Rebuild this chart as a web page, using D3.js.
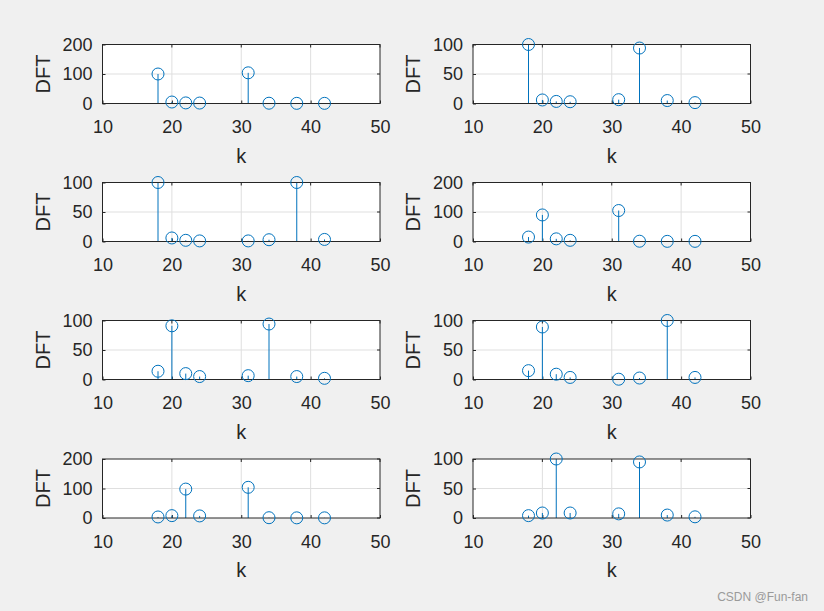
<!DOCTYPE html>
<html>
<head>
<meta charset="utf-8">
<script src="https://cdn.jsdelivr.net/npm/d3@7"></script>
<style>
  body { margin: 0; background: #f0f0f0; }
  svg { display: block; }
  .tick text { font-family: "Liberation Sans", Arial, sans-serif; font-size: 18px; fill: #262626; }
  .axisLabel { font-family: "Liberation Sans", Arial, sans-serif; font-size: 20px; fill: #262626; }
</style>
</head>
<body>
<script>
(function(){

//DFT bins (k) used by every subplot
var kBins = [18, 20, 22, 24, 31, 34, 38, 42];

//|DFT| values, left to right, top to bottom
var dft1 = [100, 5, 2, 1.5, 104, 1, 0.5, 0.5];
var dft2 = [100, 6, 3.5, 3, 6.5, 94, 5, 1.5];
var dft3 = [100, 6, 2, 1, 1, 3, 100, 3.5];
var dft4 = [15, 90, 9, 4, 105, 1, 0.5, 0.5];
var dft5 = [14, 91, 10, 5, 6.5, 94, 5, 2];
var dft6 = [15, 89, 9, 3.5, 0.5, 2.5, 100, 3.5];
var dft7 = [3.5, 8, 98, 7, 104, 1, 0.5, 0.5];
var dft8 = [4, 8.5, 100, 8.5, 7, 95, 5, 2];

//y-axis upper limit of each subplot
var yLimits = [200, 100, 100, 200, 100, 100, 200, 100];
var xLimits = [10, 50];
var xTicks = [10, 20, 30, 40, 50];

var allDft = [dft1, dft2, dft3, dft4, dft5, dft6, dft7, dft8];

var width = 824,
    height = 611;

//subplot frame geometry
var colLeft = [102.5, 473],
    plotWidth = 277.5,
    rowTop = [44.5, 182.5, 320.5, 459],
    plotHeight = 59,
    tickLen = 3,
    blue = "#0072bd",
    axisColor = "#262626";

var svg = d3.select("body")
    .append("svg")
    .attr("width", width)
    .attr("height", height);

svg.append("rect")
    .attr("width", width)
    .attr("height", height)
    .attr("fill", "#f0f0f0");

allDft.forEach(function(values, i){
    var row = Math.floor(i / 2),
        col = i % 2;
    drawStem(values, yLimits[i], colLeft[col], rowTop[row]);
});

function drawStem(values, yMax, left, top){
    var x = d3.scaleLinear().domain(xLimits).range([0, plotWidth]);
    var y = d3.scaleLinear().domain([0, yMax]).range([plotHeight, 0]);
    var yTicks = [0, yMax / 2, yMax];

    var g = svg.append("g")
        .attr("transform", "translate(" + left + "," + top + ")");

    g.append("rect")
        .attr("width", plotWidth)
        .attr("height", plotHeight)
        .attr("fill", "#ffffff");

    //grid lines
    g.selectAll(".gridX")
        .data(xTicks.slice(1, -1))
        .enter()
        .append("line")
        .attr("x1", function(d){ return x(d); })
        .attr("x2", function(d){ return x(d); })
        .attr("y1", 0)
        .attr("y2", plotHeight)
        .attr("stroke", "#dfdfdf")
        .attr("stroke-width", 1);

    g.selectAll(".gridY")
        .data(yTicks.slice(1, -1))
        .enter()
        .append("line")
        .attr("x1", 0)
        .attr("x2", plotWidth)
        .attr("y1", function(d){ return y(d); })
        .attr("y2", function(d){ return y(d); })
        .attr("stroke", "#dfdfdf")
        .attr("stroke-width", 1);

    //axes (tick marks pointing inward, labels outside)
    var xAxis = d3.axisBottom(x)
        .tickValues(xTicks)
        .tickSizeInner(-tickLen)
        .tickSizeOuter(0)
        .tickPadding(17);

    var yAxis = d3.axisLeft(y)
        .tickValues(yTicks)
        .tickSizeInner(-tickLen)
        .tickSizeOuter(0)
        .tickPadding(10);

    var xg = g.append("g")
        .attr("transform", "translate(0," + plotHeight + ")")
        .call(xAxis);
    var yg = g.append("g").call(yAxis);

    [xg, yg].forEach(function(a){
        a.select(".domain").remove();
        a.selectAll(".tick line").attr("stroke", axisColor);
        a.selectAll(".tick text").attr("fill", axisColor);
    });
    xg.selectAll(".tick text").attr("dy", "0.71em");

    //mirrored ticks on top and right
    g.selectAll(".topTick")
        .data(xTicks)
        .enter()
        .append("line")
        .attr("x1", function(d){ return x(d); })
        .attr("x2", function(d){ return x(d); })
        .attr("y1", 0)
        .attr("y2", tickLen)
        .attr("stroke", axisColor);

    g.selectAll(".rightTick")
        .data(yTicks)
        .enter()
        .append("line")
        .attr("x1", plotWidth - tickLen)
        .attr("x2", plotWidth)
        .attr("y1", function(d){ return y(d); })
        .attr("y2", function(d){ return y(d); })
        .attr("stroke", axisColor);

    //stems
    var stems = g.selectAll(".stem")
        .data(values)
        .enter();

    stems.append("line")
        .attr("x1", function(d, j){ return x(kBins[j]); })
        .attr("x2", function(d, j){ return x(kBins[j]); })
        .attr("y1", y(0))
        .attr("y2", function(d){ return y(d); })
        .attr("stroke", blue)
        .attr("stroke-width", 1);

    //box
    g.append("rect")
        .attr("width", plotWidth)
        .attr("height", plotHeight)
        .attr("fill", "none")
        .attr("stroke", axisColor)
        .attr("stroke-width", 1);

    stems.append("circle")
        .attr("cx", function(d, j){ return x(kBins[j]); })
        .attr("cy", function(d){ return y(d); })
        .attr("r", 6)
        .attr("fill", "none")
        .attr("stroke", blue)
        .attr("stroke-width", 1);

    //axis labels
    g.append("text")
        .attr("class", "axisLabel")
        .attr("x", plotWidth / 2)
        .attr("y", plotHeight + 59)
        .attr("text-anchor", "middle")
        .text("k");

    g.append("text")
        .attr("class", "axisLabel")
        .attr("transform", "translate(-53," + (plotHeight / 2) + ") rotate(-90)")
        .attr("text-anchor", "middle")
        .text("DFT");
}

//watermark
svg.append("text")
    .attr("x", 808)
    .attr("y", 601)
    .attr("text-anchor", "end")
    .attr("font-family", "\"Liberation Sans\", Arial, sans-serif")
    .attr("font-size", "12px")
    .attr("fill", "#9a9a9a")
    .text("CSDN @Fun-fan");

})();
</script>
</body>
</html>
